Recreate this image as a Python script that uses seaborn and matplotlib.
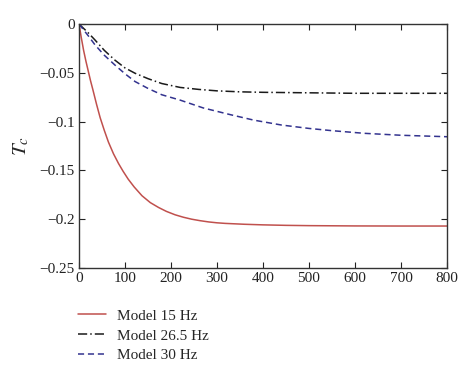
import numpy as np
import pandas as pd
import matplotlib
matplotlib.use("Agg")
import matplotlib.pyplot as plt
import seaborn as sns

# ------------------- Données -------------------
x_15 = [0, 5, 10, 15, 20, 25, 30, 38, 46, 55, 64, 75, 86, 96, 107, 120, 137, 155, 173, 190,
        209, 227, 245, 263, 282, 300, 318, 360, 400, 450, 500, 600, 700, 800]
y_15 = [0, -0.014, -0.027, -0.038, -0.048, -0.058, -0.067, -0.082, -0.096, -0.109, -0.121,
        -0.133, -0.143, -0.151, -0.159, -0.167, -0.176, -0.183, -0.188, -0.192, -0.1955,
        -0.198, -0.2, -0.2015, -0.2028, -0.2037, -0.2043, -0.2052, -0.2058, -0.2063,
        -0.2066, -0.2069, -0.207, -0.207]

x_265 = [0, 10, 20, 35, 55, 78, 100, 122, 150, 180, 220, 260, 300, 350, 400, 500, 600, 800]
y_265 = [0, -0.0045, -0.009, -0.0165, -0.027, -0.037, -0.045, -0.0505, -0.056, -0.061,
         -0.065, -0.067, -0.0685, -0.0695, -0.070, -0.0705, -0.071, -0.071]

x_30 = [0, 10, 20, 35, 55, 78, 100, 122, 150, 180, 220, 270, 330, 380, 440, 500, 550, 620, 700, 800]
y_30 = [0, -0.006, -0.012, -0.0215, -0.032, -0.042, -0.051, -0.059, -0.066, -0.0725, -0.078,
        -0.086, -0.093, -0.0985, -0.1035, -0.107, -0.1093, -0.112, -0.114, -0.1155]

labels = ["Model 15 Hz", "Model 26.5 Hz", "Model 30 Hz"]
x_ticks = [0, 100, 200, 300, 400, 500, 600, 700, 800]
y_ticks = [0, -0.05, -0.1, -0.15, -0.2, -0.25]
y_ticklabels = ["0", "\u22120.05", "\u22120.1", "\u22120.15", "\u22120.2", "\u22120.25"]

# ------------------- Style -------------------
sns.set_style("ticks")
plt.rcParams["font.family"] = ["Liberation Serif", "DejaVu Serif"]
plt.rcParams["mathtext.fontset"] = "stix"
plt.rcParams["xtick.direction"] = "in"
plt.rcParams["ytick.direction"] = "in"

fig = plt.figure(figsize=(4.74, 3.8), dpi=100)
ax = fig.add_axes([79 / 474, 1 - 268 / 380, 368 / 474, 244 / 380])

series = [
    (x_15, y_15, "#c0504d", "-"),
    (x_265, y_265, "#1a1a1a", (0, (6, 2, 1, 2))),
    (x_30, y_30, "#33338f", (0, (4, 2.5))),
]
for (xs, ys, col, ls), lab in zip(series, labels):
    df = pd.DataFrame({"t": xs, "T": ys})
    sns.lineplot(data=df, x="t", y="T", ax=ax, color=col, linestyle=ls,
                 linewidth=1.1, label=lab, legend=False)

ax.set_xlim(0, 800)
ax.set_ylim(-0.25, 0)
ax.set_xticks(x_ticks)
ax.set_xticklabels([str(v) for v in x_ticks])
ax.set_yticks(y_ticks)
ax.set_yticklabels(y_ticklabels)
ax.tick_params(top=True, right=True, length=4, width=0.8, labelsize=11, colors="#222222", pad=3)
for s in ax.spines.values():
    s.set_visible(True)
    s.set_color("#333333")
    s.set_linewidth(1.0)

ax.set_xlabel("")
ax.set_ylabel("$T_c$", fontsize=15, labelpad=6)

handles, labs = ax.get_legend_handles_labels()
fig.legend(handles, labs, loc="upper left", bbox_to_anchor=(78 / 474, 1 - 309 / 380),
           frameon=False, fontsize=11, handlelength=1.8, handletextpad=0.75,
           labelspacing=0.4, borderpad=0, borderaxespad=0)

fig.savefig("out.png", dpi=100)
